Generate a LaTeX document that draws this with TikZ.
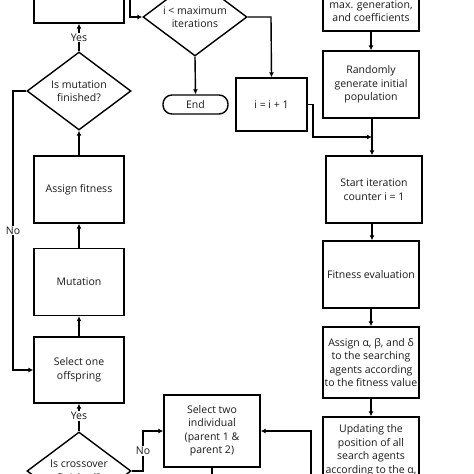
\documentclass[tikz,border=0pt]{standalone}
\usepackage{fontspec}
\setmainfont{Open Sans}
\usetikzlibrary{shapes.geometric,arrows.meta}
\begin{document}
\begin{tikzpicture}[x=1pt,y=-1pt,
  every node/.style={font=\fontsize{10.5}{13.5}\selectfont, text=black!90, align=center, inner sep=1pt},
  box/.style={draw=black, line width=1.4pt, minimum width=90pt, minimum height=67pt},
  rbox/.style={box, minimum width=96pt},
  dia/.style={draw=black, line width=1.4pt, diamond, aspect=1.33, minimum width=104pt, minimum height=78pt, inner sep=0pt},
  term/.style={draw=black, line width=1.4pt, rounded corners=9pt, minimum width=65pt, minimum height=19pt},
  conn/.style={line width=1.4pt},
  arr/.style={conn, -{Latex[length=5pt,width=5pt]}},
  lbl/.style={fill=white, inner sep=1pt}]
\useasboundingbox (0,0) rectangle (474,474);
\clip (0,0) rectangle (474,474);
% left column
\node[box] (topL) at (79,-10.5) {};
\node[dia] (mutdia) at (79,91) {Is mutation\\finished?};
\node[box] (assignfit) at (79,189.5) {Assign fitness};
\node[box] (mutation) at (79,282) {Mutation};
\node[box, minimum height=66pt] (selone) at (79,370) {Select one\\offspring};
\node[dia] (crossdia) at (79,471) {Is crossover\\finished?};
\node[box, minimum width=96pt, minimum height=72pt] (seltwo) at (212,431) {Select two\\individual\\(parent 1 \&\\parent 2)};
% middle
\node[dia] (imax) at (195,17) {i < maximum\\iterations};
\node[term] (end) at (195.5,104.5) {End};
\node[box, minimum width=71pt, minimum height=53pt] (iinc) at (271.5,104.5) {i = i + 1};
% right column
\node[rbox] (topR) at (371,-2.5) {};
\node (topRtxt) at (371,11) {max. generation,\\and coefficients};
\node[rbox] (rand) at (371,84.5) {Randomly\\generate initial\\population};
\node[rbox] (start) at (374,189.5) {Start iteration\\counter i = 1};
\node[rbox] (fiteval) at (371,274.5) {Fitness evaluation};
\node[rbox, minimum height=71pt] (assignab) at (371,362.5) {Assign α, β, and δ\\to the searching\\agents according\\to the fitness value};
\node[rbox, minimum height=80pt] (upd) at (371,457) {Updating the\\position of all\\search agents\\according to the α,\\β, and δ};
% coordinates
\coordinate (noL1) at (13,91);
\coordinate (noL2) at (13,370);
\coordinate (noC1) at (143,471);
\coordinate (noC2) at (143,431);
\coordinate (seltwoOut) at (212,480);
\coordinate (retB) at (311,480);
\coordinate (retT) at (311,431);
\coordinate (loopT) at (130,-10);
\coordinate (loopM) at (130,17);
\coordinate (incC) at (271,17);
\coordinate (jn1) at (313,104.5);
\coordinate (jn2) at (313,137);
\coordinate (jn3) at (372,137);
% connectors
\draw[arr] (mutdia.north) -- node[lbl, pos=0.5] {Yes} (topL.south);
\draw[arr] (mutdia.west) -- (noL1) -- node[lbl, pos=0.5] {No} (noL2) -- (selone.west);
\draw[arr] (assignfit.north) -- (mutdia.south);
\draw[arr] (mutation.north) -- (assignfit.south);
\draw[arr] (selone.north) -- (mutation.south);
\draw[arr] (crossdia.north) -- node[lbl, pos=0.55] {Yes} (selone.south);
\draw[arr] (crossdia.east) -- (noC1) -- node[lbl, pos=0.5] {No} (noC2) -- (seltwo.west);
\draw[conn] (seltwo.south) -- (seltwoOut);
\draw[arr] (retB) -- (retT) -- (seltwo.east);
\draw[arr] (loopT) -- (loopM) -- (imax.west);
\draw[arr] (imax.east) -- (incC) -- (iinc.north);
\draw[arr] (imax.south) -- (end.north);
\draw[arr] (topR.south) -- (rand.north);
\draw[arr] (rand.south -| jn3) -- (start.north -| jn3);
\draw[arr] (iinc.east) -- (jn1) -- (jn2) -- (jn3);
\draw[arr] (start.south -| jn3) -- (fiteval.north -| jn3);
\draw[arr] (fiteval.south) -- (assignab.north);
\draw[arr] (assignab.south) -- (upd.north);
\end{tikzpicture}
\end{document}
